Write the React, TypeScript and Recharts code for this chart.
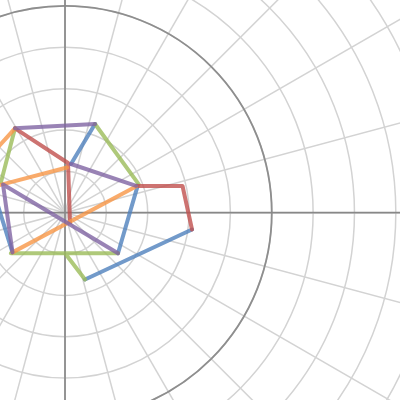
import React from "react";
import {
  Line,
  LineChart,
  PolarAngleAxis,
  PolarGrid,
  PolarRadiusAxis,
  RadarChart,
  ReferenceLine,
  XAxis,
  YAxis,
} from "recharts";

// plot window in data units
const X_DOMAIN: [number, number] = [-1.572, 8.101];
const Y_DOMAIN: [number, number] = [-4.53, 5.144];

// polar grid ticks
const radiusTicks = [0, 1, 2, 3, 4, 5, 6, 7, 8, 9, 10];
const angleTicks = [
  0, 15, 30, 45, 60, 75, 90, 105, 120, 135, 150, 165, 180, 195, 210, 225,
  240, 255, 270, 285, 300, 315, 330, 345,
];
const majorRadius = 5;

// polylines as [x, y] pairs, null = break
type Pt = [number, number] | null;

const bluePts: Pt[] = [
  [0.726, 2.145], [0.145, 1.178], null,
  [1.76, 0.66], [1.282, -0.982], null,
  [3.071, -0.406], [0.484, -1.615], null,
  [-1.77, 0.65], [-1.27, -0.96],
];
const greenPts: Pt[] = [
  [0.726, 2.145], [1.78, 0.69], null,
  [-1.31, -0.982], [1.282, -0.982], null,
  [0, -0.982], [0.484, -1.615], null,
  [-1.209, 2.041], [-1.548, 0.742],
];
const redPts: Pt[] = [
  [-1.209, 2.041], [0.073, 1.202], [0.121, -0.237], null,
  [1.72, 0.646], [2.842, 0.646], [3.071, -0.406],
];
const orangePts: Pt[] = [
  [-1.209, 2.041], [-1.814, 1.364], null,
  [-1.814, 0.607], [0.048, 1.093], null,
  [-1.27, -0.96], [1.717, 0.634],
];
const purplePts: Pt[] = [
  [-1.209, 2.041], [0.726, 2.145], null,
  [0.145, 1.178], [1.72, 0.65], null,
  [1.282, -0.982], [-1.499, 0.682], [-1.27, -0.96],
];

const series = [
  { name: "blue", pts: bluePts, color: "#4f81bd" },
  { name: "green", pts: greenPts, color: "#9bbb59" },
  { name: "red", pts: redPts, color: "#c0504d" },
  { name: "orange", pts: orangePts, color: "#f79646" },
  { name: "purple", pts: purplePts, color: "#8064a2" },
];

const toRows = (pts: Pt[]) => {
  let lastX = 0;
  return pts.map((p) => {
    if (p === null) return { x: lastX, y: null };
    lastX = p[0];
    return { x: p[0], y: p[1] };
  });
};

const SIZE = 400;
const pxPerUnit = SIZE / (X_DOMAIN[1] - X_DOMAIN[0]);
const cx = (-X_DOMAIN[0]) * pxPerUnit;
const cy = Y_DOMAIN[1] * pxPerUnit;
const angleData = angleTicks.map((a) => ({ a }));

export default function App() {
  return (
    <div
      style={{
        position: "fixed",
        left: 0,
        top: 0,
        width: SIZE,
        height: SIZE,
        background: "#fff",
        overflow: "hidden",
      }}
    >
      <div style={{ position: "absolute", left: 0, top: 0 }}>
        <RadarChart
          width={SIZE}
          height={SIZE}
          data={angleData}
          cx={cx}
          cy={cy}
          outerRadius={radiusTicks[radiusTicks.length - 1] * pxPerUnit}
          margin={{ top: 0, right: 0, bottom: 0, left: 0 }}
        >
          <PolarAngleAxis dataKey="a" tick={false} axisLine={false} />
          <PolarRadiusAxis domain={[0, 10]} tick={false} axisLine={false} />
          <PolarGrid
            gridType="circle"
            stroke="#d3d3d3"
            strokeWidth={1.5}
            polarAngles={angleTicks}
            polarRadius={radiusTicks.map((r) => r * pxPerUnit)}
          />
          <PolarGrid
            gridType="circle"
            stroke="#8e8e8e"
            strokeWidth={1.8}
            radialLines={false}
            polarAngles={[]}
            polarRadius={[majorRadius * pxPerUnit]}
          />
        </RadarChart>
      </div>
      <div style={{ position: "absolute", left: 0, top: 0 }}>
        <LineChart
          width={SIZE}
          height={SIZE}
          margin={{ top: 0, right: 0, bottom: 0, left: 0 }}
        >
          <XAxis
            type="number"
            dataKey="x"
            domain={X_DOMAIN}
            allowDataOverflow
            hide
          />
          <YAxis type="number" domain={Y_DOMAIN} allowDataOverflow hide />
          <ReferenceLine x={0} stroke="#888888" strokeWidth={1.7} />
          <ReferenceLine y={0} stroke="#888888" strokeWidth={1.7} />
          {series.map((s) => (
            <Line
              key={s.name}
              data={toRows(s.pts)}
              dataKey="y"
              stroke={s.color}
              strokeOpacity={0.8}
              strokeWidth={4}
              strokeLinecap="round"
              strokeLinejoin="round"
              dot={false}
              activeDot={false}
              connectNulls={false}
              isAnimationActive={false}
            />
          ))}
        </LineChart>
      </div>
    </div>
  );
}
